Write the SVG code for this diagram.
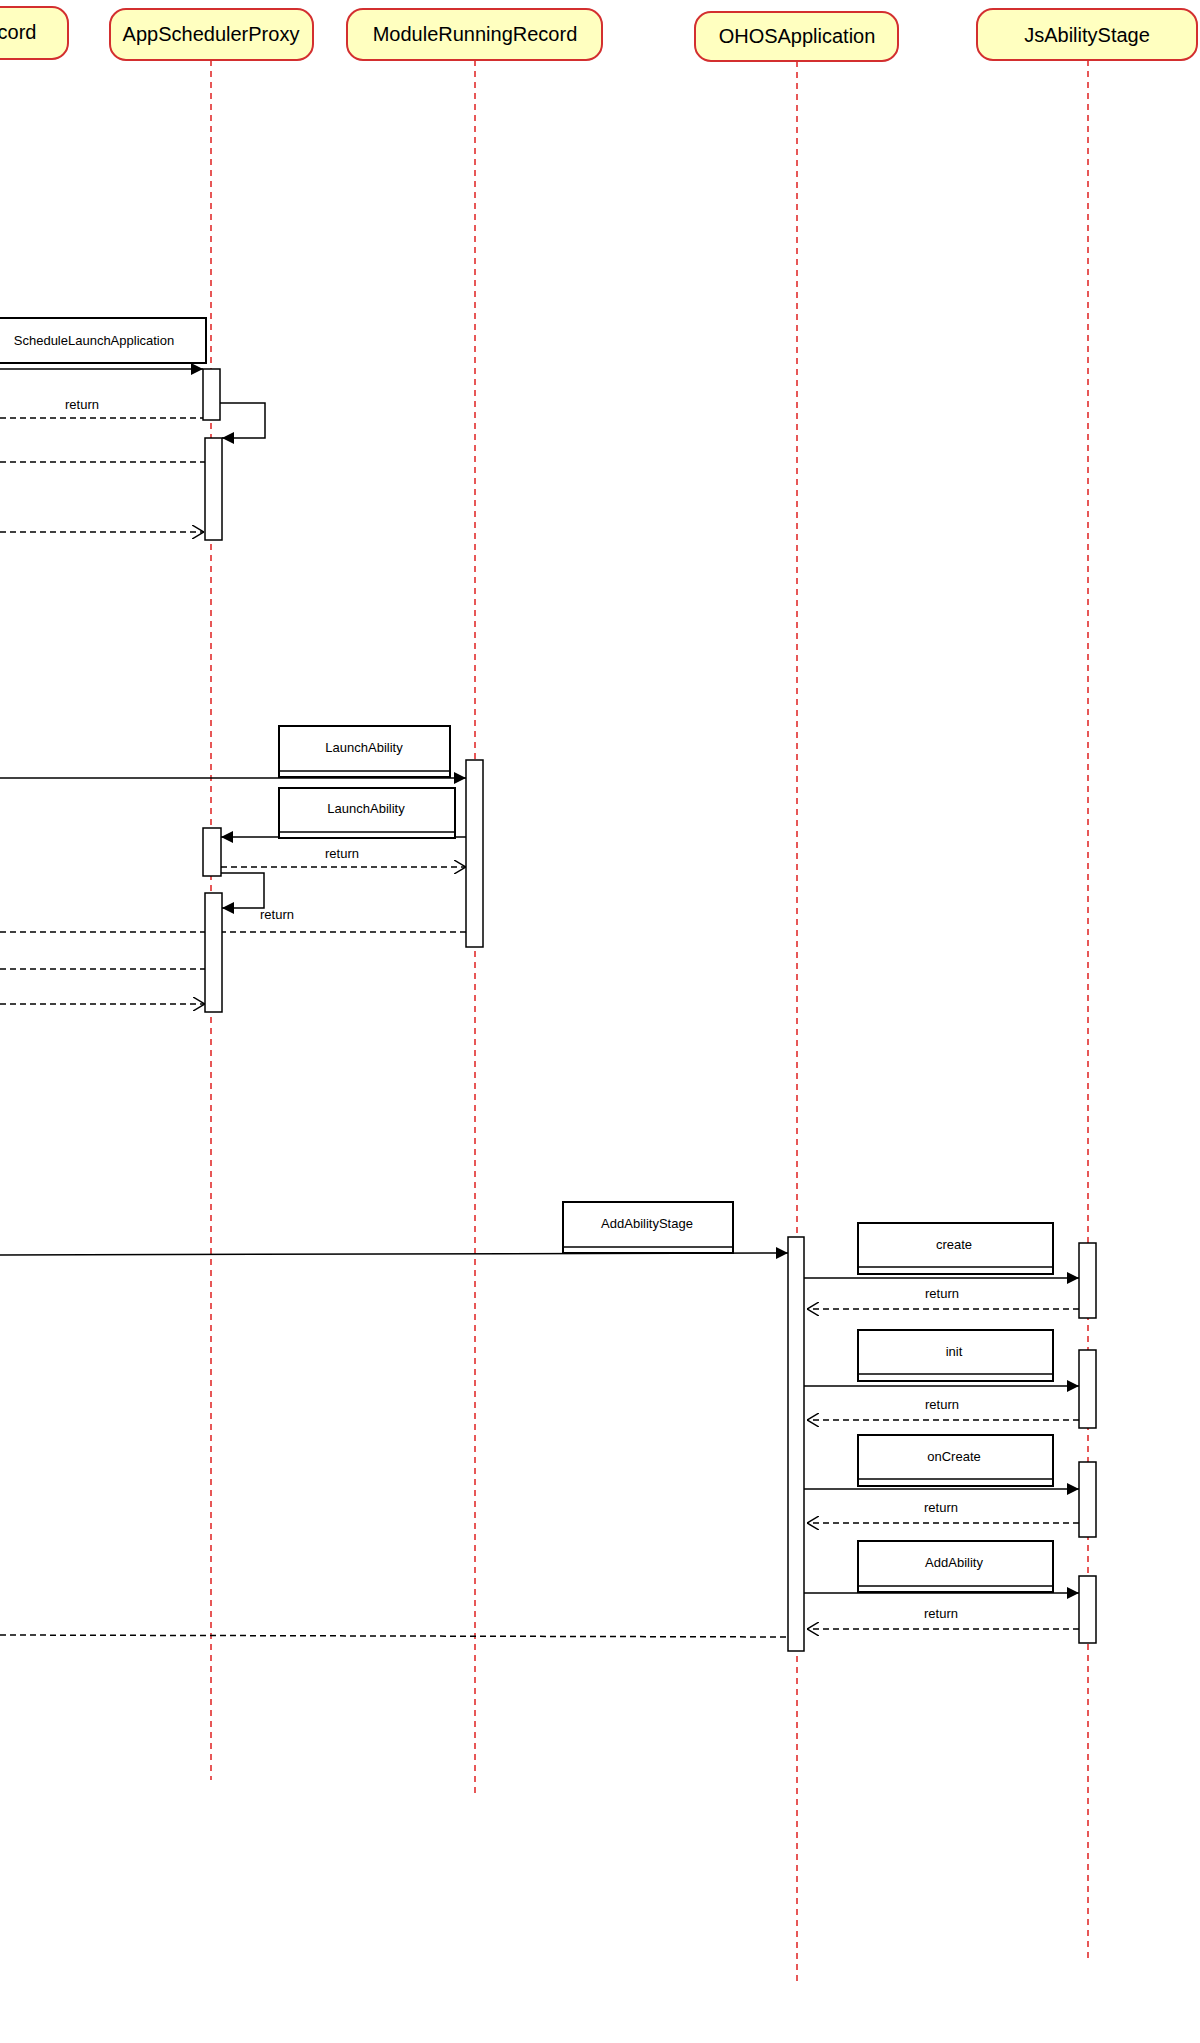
<svg xmlns="http://www.w3.org/2000/svg" width="1200" height="2043" viewBox="0 0 1200 2043">
<style>
.hd{fill:#ffffc0;stroke:#d32f2f;stroke-width:2}
.ht{font-family:"Liberation Sans",Arial,sans-serif;font-size:20px;fill:#000;text-anchor:middle}
.ll{stroke:#e02020;stroke-width:1.5;stroke-dasharray:6,5;fill:none}
.act{fill:#fff;stroke:#000;stroke-width:1.5}
.mb{fill:#fff;stroke:#000;stroke-width:2}
.mt{font-family:"Liberation Sans",Arial,sans-serif;font-size:13px;fill:#000;text-anchor:middle}
.call{stroke:#000;stroke-width:1.5;fill:none;marker-end:url(#fa)}
.ret{stroke:#000;stroke-width:1.5;fill:none;stroke-dasharray:6,4}
.reta{stroke:#000;stroke-width:1.5;fill:none;stroke-dasharray:6,4;marker-end:url(#oa)}
</style>
<defs>
<marker id="fa" viewBox="0 0 12 12" refX="12" refY="6" markerWidth="12" markerHeight="12" markerUnits="userSpaceOnUse" orient="auto"><path d="M0,0 L12,6 L0,12 Z" fill="#000"/></marker>
<marker id="oa" viewBox="0 0 12 14" refX="12" refY="7" markerWidth="12" markerHeight="14" markerUnits="userSpaceOnUse" orient="auto"><path d="M0,0 L12,7 L0,14" fill="none" stroke="#000" stroke-width="1.5"/></marker>
</defs>
<rect width="1200" height="2043" fill="#fff"/>
<g id="lifelines">
<line class="ll" x1="211" y1="60" x2="211" y2="1780"/>
<line class="ll" x1="475" y1="60" x2="475" y2="1797"/>
<line class="ll" x1="797" y1="61" x2="797" y2="1985"/>
<line class="ll" x1="1088" y1="60" x2="1088" y2="1962"/>
</g>
<g id="h-apprunning"><rect class="hd" x="-120" y="7" width="188" height="52" rx="16"/><text class="ht" x="17" y="39" style="text-anchor:middle">cord</text></g>
<g id="h-appschedulerproxy"><rect class="hd" x="110" y="9" width="203" height="51" rx="16"/><text class="ht" x="211" y="41">AppSchedulerProxy</text></g>
<g id="h-modulerunningrecord"><rect class="hd" x="347" y="9" width="255" height="51" rx="16"/><text class="ht" x="475" y="41">ModuleRunningRecord</text></g>
<g id="h-ohosapplication"><rect class="hd" x="695" y="12" width="203" height="49" rx="16"/><text class="ht" x="797" y="43">OHOSApplication</text></g>
<g id="h-jsabilitystage"><rect class="hd" x="977" y="9" width="220" height="51" rx="16"/><text class="ht" x="1087" y="42">JsAbilityStage</text></g>

<g id="connectors">
<!-- section 1 -->
<line class="call" x1="0" y1="369" x2="203" y2="369"/>
<line class="ret" x1="0" y1="418" x2="203" y2="418"/>
<path class="call" d="M220,403 H265 V438 H222"/>
<line class="ret" x1="0" y1="462" x2="205" y2="462"/>
<line class="reta" x1="0" y1="532" x2="204" y2="532"/>
<!-- section 2 -->
<line class="call" x1="0" y1="778" x2="466" y2="778"/>
<line class="call" x1="466" y1="837" x2="221" y2="837"/>
<line class="reta" x1="221" y1="867" x2="466" y2="867"/>
<path class="call" d="M221,873 H264 V908 H222"/>
<line class="ret" x1="0" y1="932" x2="466" y2="932"/>
<line class="ret" x1="0" y1="969" x2="205" y2="969"/>
<line class="reta" x1="0" y1="1004" x2="205" y2="1004"/>
<!-- section 3 -->
<line class="call" x1="0" y1="1255" x2="788" y2="1253"/>
<line class="call" x1="804" y1="1278" x2="1079" y2="1278"/>
<line class="reta" x1="1079" y1="1309" x2="807" y2="1309"/>
<line class="call" x1="804" y1="1386" x2="1079" y2="1386"/>
<line class="reta" x1="1079" y1="1420" x2="807" y2="1420"/>
<line class="call" x1="804" y1="1489" x2="1079" y2="1489"/>
<line class="reta" x1="1079" y1="1523" x2="807" y2="1523"/>
<line class="call" x1="804" y1="1593" x2="1079" y2="1593"/>
<line class="reta" x1="1079" y1="1629" x2="807" y2="1629"/>
<line class="ret" x1="0" y1="1635" x2="790" y2="1637"/>
</g>

<g id="activations">
<rect class="act" x="203" y="369" width="17" height="51"/>
<rect class="act" x="205" y="438" width="17" height="102"/>
<rect class="act" x="466" y="760" width="17" height="187"/>
<rect class="act" x="203" y="828" width="18" height="48"/>
<rect class="act" x="205" y="893" width="17" height="119"/>
<rect class="act" x="788" y="1237" width="16" height="414"/>
<rect class="act" x="1079" y="1243" width="17" height="75"/>
<rect class="act" x="1079" y="1350" width="17" height="78"/>
<rect class="act" x="1079" y="1462" width="17" height="75"/>
<rect class="act" x="1079" y="1576" width="17" height="67"/>
</g>

<g id="m-schedulelaunch"><rect class="mb" x="-10" y="318" width="216" height="45"/><text class="mt" x="94" y="345">ScheduleLaunchApplication</text></g>
<text class="mt" x="82" y="409">return</text>

<g id="m-launchability1"><rect class="mb" x="279" y="726" width="171" height="51"/><line stroke="#000" stroke-width="1.5" x1="279" y1="771" x2="450" y2="771"/><text class="mt" x="364" y="752">LaunchAbility</text></g>
<g id="m-launchability2"><rect class="mb" x="279" y="788" width="176" height="50"/><line stroke="#000" stroke-width="1.5" x1="279" y1="832" x2="455" y2="832"/><text class="mt" x="366" y="813">LaunchAbility</text></g>
<text class="mt" x="342" y="858">return</text>
<text class="mt" x="277" y="919">return</text>

<g id="m-addabilitystage"><rect class="mb" x="563" y="1202" width="170" height="51"/><line stroke="#000" stroke-width="1.5" x1="563" y1="1247" x2="733" y2="1247"/><text class="mt" x="647" y="1228">AddAbilityStage</text></g>
<g id="m-create"><rect class="mb" x="858" y="1223" width="195" height="51"/><line stroke="#000" stroke-width="1.5" x1="858" y1="1267" x2="1053" y2="1267"/><text class="mt" x="954" y="1249">create</text></g>
<g id="m-init"><rect class="mb" x="858" y="1330" width="195" height="51"/><line stroke="#000" stroke-width="1.5" x1="858" y1="1374" x2="1053" y2="1374"/><text class="mt" x="954" y="1356">init</text></g>
<g id="m-oncreate"><rect class="mb" x="858" y="1435" width="195" height="51"/><line stroke="#000" stroke-width="1.5" x1="858" y1="1479" x2="1053" y2="1479"/><text class="mt" x="954" y="1461">onCreate</text></g>
<g id="m-addability"><rect class="mb" x="858" y="1541" width="195" height="51"/><line stroke="#000" stroke-width="1.5" x1="858" y1="1586" x2="1053" y2="1586"/><text class="mt" x="954" y="1567">AddAbility</text></g>
<text class="mt" x="942" y="1298">return</text>
<text class="mt" x="942" y="1409">return</text>
<text class="mt" x="941" y="1512">return</text>
<text class="mt" x="941" y="1618">return</text>
</svg>
